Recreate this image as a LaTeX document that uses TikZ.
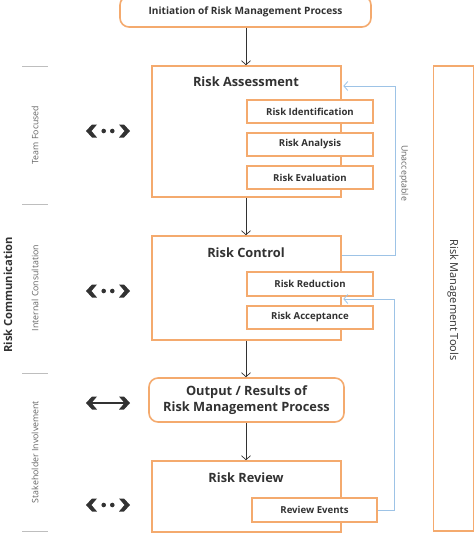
\documentclass[tikz,border=0pt]{standalone}
\usepackage{fontspec}
\setmainfont{Open Sans}
\usetikzlibrary{arrows.meta}
\definecolor{boxor}{RGB}{244,170,110}
\definecolor{fbblue}{RGB}{157,195,230}
\definecolor{dk}{RGB}{50,50,50}
\definecolor{sep}{RGB}{190,190,190}
\begin{document}
\begin{tikzpicture}[x=1pt,y=-1pt,
  obox/.style={draw=boxor,line width=1.6pt,fill=white,inner sep=0pt},
  rbox/.style={obox,rounded corners=9pt},
  subbox/.style={obox,font=\bfseries\fontsize{9.6}{11}\selectfont,text=dk},
  ttl/.style={font=\bfseries\fontsize{12.8}{15}\selectfont,text=dk,inner sep=0pt},
  flow/.style={draw=dk,line width=0.8pt,-{Straight Barb[length=4pt,width=9pt,line width=0.7pt]}},
  fb/.style={draw=fbblue,line width=0.9pt,-{Straight Barb[length=4pt,width=9pt,line width=0.8pt]}},
  side/.style={font=\fontsize{8.8}{10}\selectfont,text=dk!75,rotate=90,inner sep=0pt},
  sepl/.style={draw=sep,line width=0.9pt},
  chevl/.pic={\fill[dk] (-22,0) -- (-16,-6.5) -- (-11,-6.5) -- (-16.5,0) -- (-11,6.5) -- (-16,6.5) -- cycle;},
  chevr/.pic={\fill[dk] (22,0) -- (16,-6.5) -- (11,-6.5) -- (16.5,0) -- (11,6.5) -- (16,6.5) -- cycle;},
  chevdots/.pic={
    \pic {chevl}; \pic {chevr};
    \fill[dk] (-4.3,0) circle (2.3pt) (4.3,0) circle (2.3pt);
  },
  dblarrow/.pic={
    \pic {chevl}; \pic {chevr};
    \draw[dk,line width=1.8pt] (-18,0) -- (18,0);
  }]
\useasboundingbox (0,0) rectangle (474,533);
% top box
\node[rbox,minimum width=251pt,minimum height=31pt,font=\bfseries\fontsize{10.1}{12}\selectfont,text=dk] (init) at (245.5,11.5) {Initiation of Risk Management Process};
% risk assessment
\node[obox,minimum width=189pt,minimum height=131pt] (ra) at (246.5,131.5) {};
\node[ttl] (rat) at (246,82) {Risk Assessment};
\node[subbox,minimum width=126pt,minimum height=23pt] (ri) at (310,111.5) {Risk Identification};
\node[subbox,minimum width=126pt,minimum height=23pt] (ran) at (310,144.5) {Risk Analysis};
\node[subbox,minimum width=126pt,minimum height=23pt] (rev) at (310,177.5) {Risk Evaluation};
% risk control
\node[obox,minimum width=189pt,minimum height=104pt] (rc) at (246.5,288) {};
\node[ttl] (rct) at (246,253) {Risk Control};
\node[subbox,minimum width=126pt,minimum height=24pt] (rr) at (310,284) {Risk Reduction};
\node[subbox,minimum width=126pt,minimum height=23pt] (racc) at (310,317.5) {Risk Acceptance};
% output
\node[rbox,minimum width=195pt,minimum height=44pt,font=\bfseries\fontsize{12.8}{15.5}\selectfont,text=dk,align=center] (out) at (246.5,400) {Output / Results of\\Risk Management Process};
% risk review
\node[obox,minimum width=189pt,minimum height=71pt] (rvw) at (246.5,496.5) {};
\node[ttl] (rvwt) at (246,478) {Risk Review};
\node[subbox,minimum width=125pt,minimum height=24pt] (revt) at (314.5,510) {Review Events};
% tools
\node[obox,minimum width=40pt,minimum height=465pt] (tools) at (453.5,298.5) {};
\node[font=\fontsize{11}{13}\selectfont,text=dk,rotate=-90,inner sep=0pt] (toolst) at (453,300) {Risk Management Tools};
% flow arrows
\draw[flow] (init.south -| rat.north) -- (ra.north -| rat.north);
\draw[flow] (ra.south -| rat.north) -- (rc.north -| rat.north);
\draw[flow] (rc.south -| rat.north) -- (out.north -| rat.north);
\draw[flow] (out.south -| rat.north) -- (rvw.north -| rat.north);
% feedback
\coordinate (fb1a) at (395,255);
\coordinate (fb1b) at (395,86);
\draw[fb] (rc.east |- fb1a) -- (fb1a) -- (fb1b) -- ([xshift=1.5pt]ra.east |- fb1b);
\node[font=\fontsize{8.8}{10}\selectfont,text=dk!75,rotate=-90,inner sep=0pt] (unacc) at (404,173) {Unacceptable};
\coordinate (fb2a) at (394,510);
\coordinate (fb2b) at (394,299);
\draw[fb] (revt.east) -- (fb2a) -- (fb2b) -- ([xshift=1.5pt]rc.east |- fb2b);
% left side
\node[font=\bfseries\fontsize{11.2}{13}\selectfont,text=dk,rotate=90,inner sep=0pt] (rcom) at (8,295) {Risk Communication};
\node[side] (tf) at (35,135) {Team Focused};
\node[side] (ic) at (35,288) {Internal Consultation};
\node[side] (si) at (35,452) {Stakeholder Involvement};
\coordinate (s1) at (22,66); \coordinate (s1e) at (48,66);
\coordinate (s2) at (22,204); \coordinate (s2e) at (48,204);
\coordinate (s3) at (22,373); \coordinate (s3e) at (48,373);
\coordinate (s4) at (22,531); \coordinate (s4e) at (48,531);
\draw[sepl] (s1) -- (s1e);
\draw[sepl] (s2) -- (s2e);
\draw[sepl] (s3) -- (s3e);
\draw[sepl] (s4) -- (s4e);
\pic at (108,131) {chevdots};
\pic at (108,291) {chevdots};
\pic at (108,403) {dblarrow};
\pic at (108,505) {chevdots};
\end{tikzpicture}
\end{document}
